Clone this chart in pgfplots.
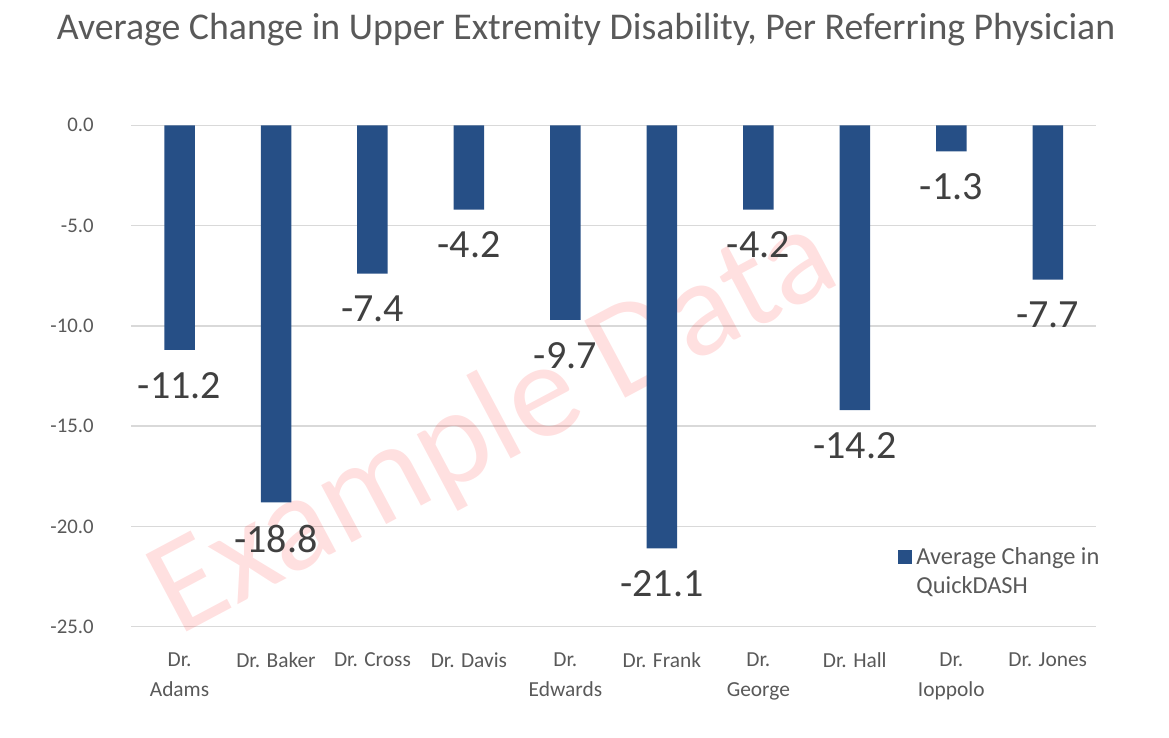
\documentclass[border=0pt]{standalone}
\usepackage{pgfplots}
\pgfplotsset{compat=1.18}
\usepackage{fontspec}
\setmainfont{Carlito}
\definecolor{barblue}{HTML}{264F86}
\definecolor{txtgray}{HTML}{595959}
\definecolor{lblgray}{HTML}{404040}
\definecolor{gridgray}{HTML}{D9D9D9}
\begin{document}
\begin{tikzpicture}[x=1pt,y=1pt]
\useasboundingbox (-65.65,-55.65) rectangle (518.85,313.35);
\node[font=\fontsize{18.9}{22}\selectfont, text=txtgray, anchor=base] at (227.35,293.35) {Average Change in Upper Extremity Disability, Per Referring Physician};
\begin{axis}[
  at={(0pt,0pt)}, anchor=south west,
  scale only axis, width=482.35pt, height=250.7pt,
  xmin=-0.5, xmax=9.5, ymin=-25, ymax=0,
  axis line style={draw=none},
  major tick length=0pt,
  ytick={-25,-20,-15,-10,-5,0},
  ymajorgrids, grid style={gridgray, line width=0.75pt},
  xtick={0,1,2,3,4,5,6,7,8,9},
  xticklabels={{Dr.\\Adams},{Dr. Baker},{Dr. Cross},{Dr. Davis},{Dr.\\Edwards},{Dr. Frank},{Dr.\\George},{Dr. Hall},{Dr.\\Ioppolo},{Dr. Jones}},
  xticklabel style={font=\fontsize{10.7}{15}\selectfont, text=txtgray, align=center, anchor=north, inner sep=0pt, yshift=-12.65pt},
  yticklabel style={font=\fontsize{10.4}{15}\selectfont, text=txtgray, anchor=east, inner sep=0pt, xshift=-18.6pt,
    /pgf/number format/.cd, fixed, fixed zerofill, precision=1, assume math mode=true},
  ybar, bar width=15.25pt,
  nodes near coords={\pgfmathprintnumber[fixed,fixed zerofill,precision=1,assume math mode=true]{\pgfplotspointmeta}},
  nodes near coords style={font=\fontsize{20}{24}\selectfont, text=lblgray, anchor=north, inner sep=0pt, yshift=-11pt},
  legend style={at={(rel axis cs:0.7948,0.167)}, anchor=north west, draw=none, fill=none,
    font=\fontsize{12.2}{14.5}\selectfont, text=txtgray, cells={align=left, anchor=west}, inner sep=0pt},
  legend image code/.code={\fill[barblue] (0pt,4pt) rectangle (7pt,11pt);},
  clip=false,
]
\node[rotate=28, font=\fontsize{68}{74}\selectfont, text=red, text opacity=0.12] at (rel axis cs:0.376,0.398) {Example Data};
\addplot[fill=barblue, draw=none] coordinates {
  (0,-11.2) (1,-18.8) (2,-7.4) (3,-4.2) (4,-9.7) (5,-21.1) (6,-4.2) (7,-14.2) (8,-1.3) (9,-7.7)
};
\addlegendentry{Average Change in\\QuickDASH}
\end{axis}
\end{tikzpicture}
\end{document}
